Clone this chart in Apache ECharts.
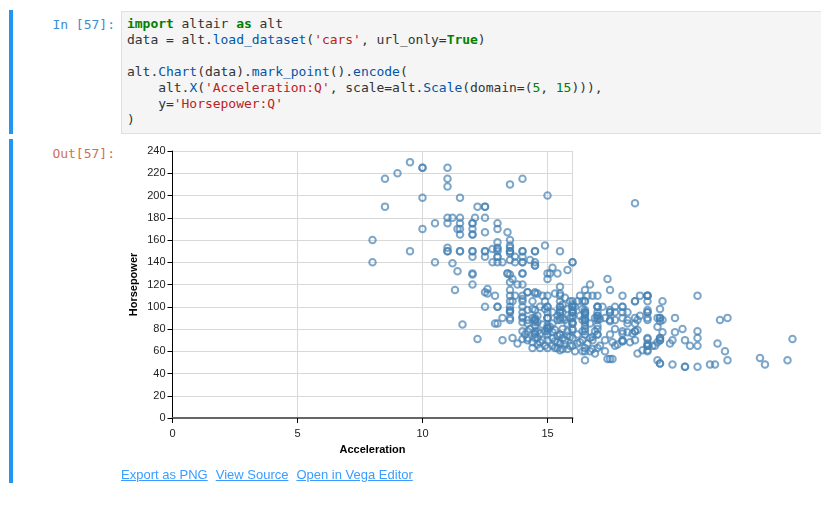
<!DOCTYPE html>
<html><head><meta charset="utf-8">
<script src="https://cdn.jsdelivr.net/npm/echarts@6/dist/echarts.min.js"></script>
<style>
html,body{margin:0;padding:0;background:#fff;width:821px;height:513px;overflow:hidden}
.bar{position:absolute;left:9px;width:4px;background:#2196f3}
.prompt{position:absolute;width:110px;left:5px;text-align:right;font:13px/16px "DejaVu Sans Mono",monospace}
#code{position:absolute;left:121px;top:11px;width:700px;height:123px;box-sizing:border-box;background:#f5f5f5;border:1px solid #e0e0e0;border-right:none;margin:0;padding:4px 5px;font:13px/16px "DejaVu Sans Mono",monospace;letter-spacing:-0.03px;color:#333}
.k{color:#008000;font-weight:bold}.s{color:#ba2121}.f{color:#0055aa}.n{color:#008000}
#links{position:absolute;left:121px;top:467px;font:13px/16px "Liberation Sans",sans-serif;white-space:pre}
#links a{color:#3a9cff;text-decoration:underline;margin-right:8px}
#chart{position:absolute;left:0;top:0;width:821px;height:513px}
</style></head><body>
<div class="bar" style="top:10px;height:124px"></div>
<div class="bar" style="top:139px;height:344px"></div>
<div class="prompt" style="top:17px;color:#3a8fd0">In [57]:</div>
<div class="prompt" style="top:146px;color:#d0705a">Out[57]:</div>
<pre id="code"><span class="k">import</span> altair <span class="k">as</span> alt
data = alt.<span class="f">load_dataset</span>(<span class="s">'cars'</span>, url_only=<span class="k">True</span>)

alt.<span class="f">Chart</span>(data).<span class="f">mark_point</span>().<span class="f">encode</span>(
    alt.<span class="f">X</span>(<span class="s">'Acceleration:Q'</span>, scale=alt.<span class="f">Scale</span>(domain=(<span class="n">5</span>, <span class="n">15</span>))),
    y=<span class="s">'Horsepower:Q'</span>
)</pre>
<div id="chart"></div>
<div id="links"><a>Export as PNG</a><a>View Source</a><a>Open in Vega Editor</a></div>
<script>
const xTicks=[0,5,10,15];
const xTickMarks=[0,5,10,15,16];
const yTicks=[0,20,40,60,80,100,120,140,160,180,200,220,240];
const xTitle='Acceleration';
const yTitle='Horsepower';
// [acceleration, horsepower]
const carsA=[[12,130],[11.5,165],[11,150],[12,150],[10.5,140],[10,198],[9,220],[8.5,215],[10,225],[8.5,190],[10,170],[8,160],[8,140],[10.5,175],[9.5,150],[10,225],[15,95],[15.5,95],[15.5,97],[16,85],[14.5,88],[20.5,46],[17.5,87],[14.5,90],[17.5,95],[12.5,113],[15,90],[14,215],[15,200],[13.5,210],[18.5,193],
[14.5,88],[15,90],[14,95],[13,100],[15.5,105],[15.5,100],[15.5,88],[15.5,100],[12,165],[11.5,175],[13.5,153],[13,150],[11.5,180],[12,170],[12,175],[13.5,110],[19,72],[15,100],[14.5,88],[14,86],[15,90],[20,70],[14.5,76],[19,65],[18,69],[19,60],[20.5,70],[15.5,95],[17,80],[23.5,54],[19.5,90],[16.5,86]];
const carsB=[[12,165],[12,175],[13.5,150],[13,153],[11.5,150],[11,208],[13.5,155],[13.5,160],[12.5,190],[13.5,97],[12.5,150],[14,130],[16,140],[14,150],[14.5,112],[18,76],[19.5,87],[18,69],[16,86],[17,92],[14.5,97],[15,80],[16.5,88],
[13,175],[11.5,150],[13,145],[14.5,137],[12.5,150],[11.5,198],[12,150],[13,158],[14.5,150],[11,215],[11,225],[11,175],[16.5,105],[18,100],[16,100],[16.5,88],[16,95],[21,46],[14,150],[12.5,167],[13,170],[12.5,180],[15,100],[19,88],[19.5,72],[16.5,94],[13.5,90],[18.5,85],[14,107],[15.5,90],[13,145],[9.5,230],[19.5,49],[15.5,75],[14,91],[15.5,112],[11,150],[14,110],[13.5,122],[11,180],[16.5,95]];
const carsC=[[17,100],[16,100],[17,100],[16.5,80],[19,65],[16.5,75],[17,110],[16.5,105],[14,140],[14.5,150],[13.5,150],[16,140],[15.5,150],[16.5,83],[19,67],[18.5,78],[19,61],[17,75],[15.5,75],[16.5,93],[18,95],
[16,95],[16,105],[21,72],[19.5,72],[11.5,170],[14,145],[13.5,148],[21,110],[18.5,105],[19,110],[19,95],[15,110],[12,129],[15,83],[16.5,78],[13.5,96],[14,71],[16,97],[17.5,97],[17,90],[13.5,88],[19.5,98],[16.5,115],[14.5,86],[15,81],[16,92],
[16,79],[17,83],[14.5,140],[12,120],[13,152],[15,81],[14,90],[16.5,60],[15,70],[14,100],[15,78],[15.5,110],[16.5,95],[16,72]];
const carsD=[[11.2,180],[11.3,115],[11.2,139],[11.4,132],[11.6,84],[12.2,71],[12.6,116],[12.6,112],[12.9,110],[13,100],[12.9,85],[13,85],[13.2,90],[13.2,70],[13.6,72],[13.8,67],[13.4,130],[13.6,125],[13.5,115],[13.8,120],[14,120],[14,130],[12.1,180],[12.2,190],[12.5,190],[12.8,140],[12.8,152],[13.2,140],[13.4,167],[13.4,130],[13.5,129],[13.7,145],[13.7,140],[14.3,142],[14.5,137],[14.9,155],[15.2,135],[15.1,130],[15.4,130],[15.8,133],[15,125],[15,130],[13.7,110],[14.2,113],[14.4,105],[14.6,112],[14.8,110],[14.2,97],[14.4,98],[14.6,92],[14.7,100],[14.9,105],
[14.2,85],[14.3,80],[14.5,78],[14.7,76],[14.9,78],[15.1,82],[15.2,85],[15.3,79],[15.4,88],[15.6,90],[15.7,88],[15.8,85],[15.9,90],[14.1,75],[14.2,70],[14.4,68],[14.5,75],[14.6,72],[14.8,70],[14.9,65],[15,63],[15.2,65],[14.7,63],[14.4,63],[15.5,67],[15.7,70],[15.8,74],[16,65],[16.2,67],[16.3,68],[16.1,60],[16.4,60],[16.5,52],[16.4,70],[16.6,67],[16.7,72],[16.8,70],[16.9,58],[17,63],[17.3,70],[17.3,60],[17.4,53],[17.5,53],[17.6,53]];
const carsE=[[16.7,120],[17.4,125],[17.5,115],[18,110],[18.7,110],[19,110],[19,110],[18.5,105],[19,105],[19.6,105],[19,97],[19,95],[19,90],[19.5,90],[19.6,88],[19.4,90],[19.4,82],[19.6,77],[19,71],[19.5,70],[19.5,70],[19.4,68],[19.3,65],[19.2,65],[19,65],[18.8,61],[18.6,58],[19.5,49],[19.4,52],[17.7,100],[18,100],[18.2,95],[17.5,95],[17.7,95],[18.5,90],[18.7,92],[18.6,88],[18,90],[18.2,88],[18.2,85],[18.6,79],[18.5,78],[18.2,77],[18,78],[18.4,76],[18.5,70],[18.3,68],[18,70],[17.8,66],[17.7,65],[17.6,68],[17.5,75],[17.7,80],[17,100],[17,95],[17,92],[17,88],[17.2,100],[17.7,88],[17.5,88],[17.3,90],[17.1,89],[16.9,90],[16.5,97],[16.4,98],[16.5,90],[16.4,88],[16,102],[16,95],[16,85],[16,90],[16.2,105],[16.3,110],[16.6,110],[16.4,105],[16.8,110],[16.1,100],[16.3,92],[16.7,85],[16.9,78],[17,75],[16.2,75],[16.4,78],[16.8,73],[17.1,65],[16.5,63],[15.6,62],[15.9,65],[15.4,74],[15.3,69],
[24.8,71],[24.6,52],[23.7,48],[22.2,52],[22.2,90],[21.9,88],[21,78],[21,65],[22.1,60],[21.8,67],[20.7,65],[20.4,80],[20.1,77],[20.1,90],[19.9,67],[20,48],[21.5,48],[21.7,48],[20.5,46],[14.9,98],[15.2,95],[15.4,92],[15.6,95],[15.8,98],[15.9,105],[15.7,108],[15.5,118],[15.3,112],[15.6,102],[14.5,113],[14.2,113],[13.6,105],[13.5,95],[14,105],[14.2,88],[14.4,90],[14.6,86],[14.8,84],[14.2,78],[14.5,72],[15,75],[15.2,72],[15.4,68],[15.6,80],[15.8,78],[16,80],[15.9,73],[15.7,66],[14.7,68]];
const carsF=[[12.5,100],[13.5,100],[13.5,105],[11,153],[12,145],[12.5,145],[13,140],[13.5,142],[14,140],[11.4,170],[15.3,63],[15.5,61],[15.8,62],[16.8,62],[15.4,63],[16.7,60],[14.6,66],[14,78],[14.2,72],[14.6,78],[15.2,77],[15.6,72],[14.5,83]];
const cars=[...carsA,...carsB,...carsC,...carsD,...carsE,...carsF];
const gridCol='#d8d8d8';
const chart=echarts.init(document.getElementById('chart'));
chart.setOption({animation:false,
 grid:{left:172.5,top:151,width:400,height:267,containLabel:false},
 xAxis:{type:'value',min:0,max:16,interval:5,
  name:xTitle,nameLocation:'middle',nameGap:26,nameTextStyle:{fontFamily:'Liberation Sans',fontSize:11,fontWeight:'bold',color:'#000'},
  axisLine:{show:true,lineStyle:{color:'#666',width:2},onZero:false},
  axisTick:{show:true,length:5,customValues:xTickMarks,lineStyle:{color:'#000',width:1}},
  axisLabel:{customValues:xTicks,margin:10,fontFamily:'Liberation Sans',fontSize:11,color:'#222',formatter:v=>String(v)},
  splitLine:{show:true,lineStyle:{color:gridCol,width:1}}},
 yAxis:{type:'value',min:0,max:240,interval:20,
  name:yTitle,nameLocation:'middle',nameGap:33,nameRotate:90,nameTextStyle:{fontFamily:'Liberation Sans',fontSize:11,fontWeight:'bold',color:'#000'},
  axisLine:{show:true,lineStyle:{color:'#000',width:1}},
  axisTick:{show:true,length:5,lineStyle:{color:'#000',width:1}},
  axisLabel:{margin:7,fontFamily:'Liberation Sans',fontSize:11,color:'#222',customValues:yTicks,formatter:v=>String(v)},
  splitLine:{show:true,lineStyle:{color:gridCol,width:1}}},
 series:[{type:'scatter',data:cars,symbol:'circle',symbolSize:6.5,clip:false,
  itemStyle:{color:'rgba(0,0,0,0)',borderColor:'#4682b4',borderWidth:2,opacity:0.7}}]
});
</script>
</body></html>
